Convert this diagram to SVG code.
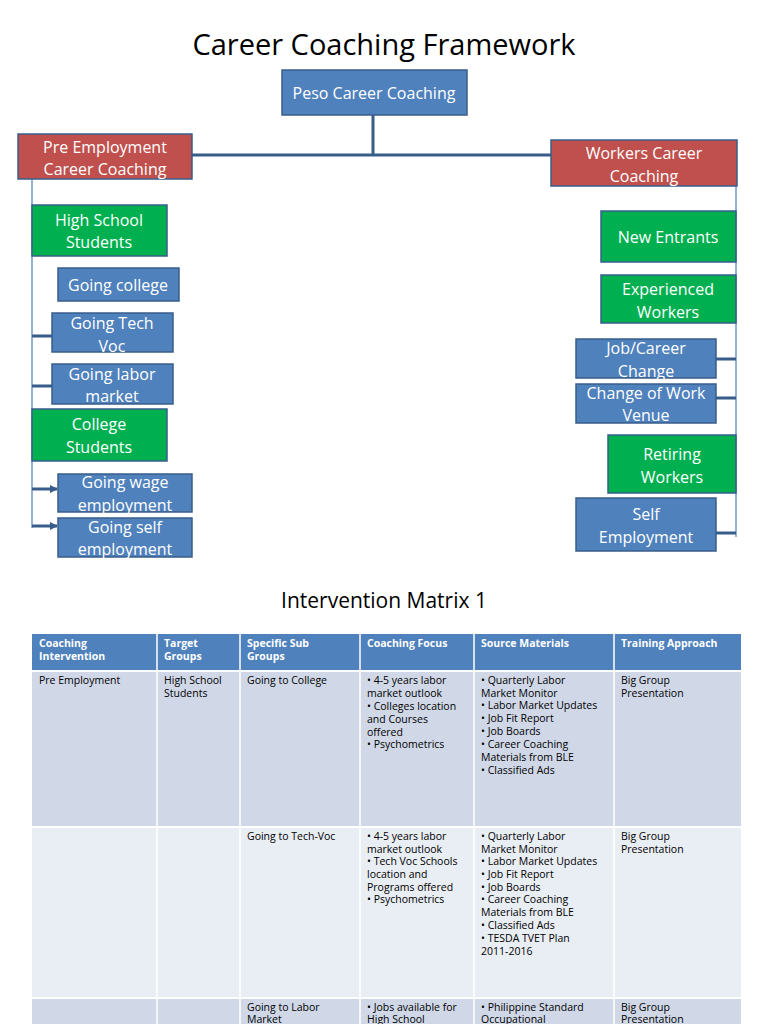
<svg xmlns="http://www.w3.org/2000/svg" width="768" height="1024" viewBox="0 0 768 1024">
<style>
.t{font-family:"Open Sans","Liberation Sans",sans-serif}
.n text{font-family:"Open Sans","Liberation Sans",sans-serif;font-size:16px;fill:#fff;text-anchor:middle}
.b{fill:#4f81bd;stroke:#385d8a;stroke-width:1.5}
.r{fill:#c0504d;stroke:#385d8a;stroke-width:1.5}
.g{fill:#00b050;stroke:#385d8a;stroke-width:1.5}
.thin{stroke:#4f81bd;stroke-width:1.2;fill:none}
.thk{stroke:#385d8a;stroke-width:3;fill:none}
.tb text{font-family:"Open Sans","Liberation Sans",sans-serif;font-size:10.5px;fill:#000}
.tb text.h{fill:#fff;font-weight:bold}
</style>
<defs><marker id="a" markerUnits="userSpaceOnUse" markerWidth="8" markerHeight="8" refX="7" refY="4" orient="auto"><path d="M0,0L8,4L0,8z" fill="#385d8a"/></marker></defs>
<rect width="768" height="1024" fill="#fff"/>
<text class="t" x="384" y="55" font-size="29" text-anchor="middle">Career Coaching Framework</text>
<g id="connectors">
<path class="thk" d="M373,115V155M192,155H551"/>
<path class="thin" d="M32,179V528M736,186V537"/>
<path class="thk" d="M32,336H52M32,386H52M736,359H716M736,398H716M736,533H716"/>
<path class="thk" d="M32,489H57" marker-end="url(#a)"/>
<path class="thk" d="M32,526H57" marker-end="url(#a)"/>
</g>
<g class="n">
<g id="peso"><rect class="b" x="282" y="70" width="185" height="45"/><text x="374" y="99">Peso Career Coaching</text></g>
<g id="pre"><rect class="r" x="18" y="134" width="174" height="45"/><text x="105" y="153">Pre Employment</text><text x="105" y="175">Career Coaching</text></g>
<g id="workers"><rect class="r" x="551" y="140" width="186" height="46"/><text x="644" y="159">Workers Career</text><text x="644" y="182">Coaching</text></g>
<g id="hs"><rect class="g" x="32" y="205" width="135" height="51"/><text x="99" y="226">High School</text><text x="99" y="248">Students</text></g>
<g id="gcol"><rect class="b" x="58" y="268" width="121" height="33"/><text x="118" y="291">Going college</text></g>
<g id="gtv"><rect class="b" x="52" y="313" width="121" height="39"/><text x="112" y="329">Going Tech</text><text x="112" y="352">Voc</text></g>
<g id="glab"><rect class="b" x="52" y="364" width="121" height="40"/><text x="112" y="380">Going labor</text><text x="112" y="402">market</text></g>
<g id="cs"><rect class="g" x="32" y="409" width="135" height="52"/><text x="99" y="430">College</text><text x="99" y="453">Students</text></g>
<g id="gwage"><rect class="b" x="58" y="474" width="134" height="38"/><text x="125" y="488">Going wage</text><text x="125" y="511">employment</text></g>
<g id="gself"><rect class="b" x="58" y="518" width="134" height="39"/><text x="125" y="533">Going self</text><text x="125" y="555">employment</text></g>
<g id="ne"><rect class="g" x="601" y="211" width="135" height="51"/><text x="668" y="243">New Entrants</text></g>
<g id="ew"><rect class="g" x="601" y="275" width="135" height="48"/><text x="668" y="295">Experienced</text><text x="668" y="318">Workers</text></g>
<g id="jc"><rect class="b" x="576" y="339" width="140" height="39"/><text x="646" y="354">Job/Career</text><text x="646" y="377">Change</text></g>
<g id="cw"><rect class="b" x="576" y="384" width="140" height="39"/><text x="646" y="399">Change of Work</text><text x="646" y="421">Venue</text></g>
<g id="rw"><rect class="g" x="608" y="435" width="128" height="58"/><text x="672" y="460">Retiring</text><text x="672" y="483">Workers</text></g>
<g id="se"><rect class="b" x="576" y="498" width="140" height="53"/><text x="646" y="520">Self</text><text x="646" y="543">Employment</text></g>
</g>
<text class="t" x="384" y="608" font-size="21" text-anchor="middle">Intervention Matrix 1</text>
<g class="tb">
<rect x="32" y="634" width="709" height="36" fill="#4f81bd"/>
<rect x="32" y="672" width="709" height="154" fill="#d0d8e8"/>
<rect x="32" y="828" width="709" height="169" fill="#e9edf4"/>
<rect x="32" y="999" width="709" height="25" fill="#d0d8e8"/>
<path d="M157,634V1024M240,634V1024M360,634V1024M474,634V1024M614,634V1024M32,671H741M32,827H741M32,998H741" stroke="#fff" stroke-width="1.5"/>
<text class="h" x="39" y="647">Coaching</text><text class="h" x="39" y="660">Intervention</text>
<text class="h" x="164" y="647">Target</text><text class="h" x="164" y="660">Groups</text>
<text class="h" x="247" y="647">Specific Sub</text><text class="h" x="247" y="660">Groups</text>
<text class="h" x="367" y="647">Coaching Focus</text>
<text class="h" x="481" y="647">Source Materials</text>
<text class="h" x="621" y="647">Training Approach</text>
<text x="39" y="684">Pre Employment</text>
<text x="164" y="684">High School</text><text x="164" y="697">Students</text>
<text x="247" y="684">Going to College</text>
<text x="367" y="684">• 4-5 years labor</text><text x="367" y="697">market outlook</text><text x="367" y="710">•  Colleges location</text><text x="367" y="723">and Courses</text><text x="367" y="736">offered</text><text x="367" y="748">• Psychometrics</text>
<text x="481" y="684">• Quarterly Labor</text><text x="481" y="697">Market Monitor</text><text x="481" y="709">• Labor Market Updates</text><text x="481" y="722">• Job Fit Report</text><text x="481" y="735">• Job Boards</text><text x="481" y="748">• Career Coaching</text><text x="481" y="761">Materials from BLE</text><text x="481" y="774">• Classified Ads</text>
<text x="621" y="684">Big Group</text><text x="621" y="697">Presentation</text>
<text x="247" y="840">Going to Tech-Voc</text>
<text x="367" y="840">• 4-5 years labor</text><text x="367" y="853">market outlook</text><text x="367" y="865">• Tech Voc Schools</text><text x="367" y="878">location and</text><text x="367" y="891">Programs  offered</text><text x="367" y="903">• Psychometrics</text>
<text x="481" y="840">• Quarterly Labor</text><text x="481" y="853">Market Monitor</text><text x="481" y="865">• Labor Market Updates</text><text x="481" y="878">• Job Fit Report</text><text x="481" y="891">• Job Boards</text><text x="481" y="903">• Career Coaching</text><text x="481" y="916">Materials from BLE</text><text x="481" y="929">• Classified Ads</text><text x="481" y="942">• TESDA TVET Plan</text><text x="481" y="955">2011-2016</text>
<text x="621" y="840">Big Group</text><text x="621" y="853">Presentation</text>
<text x="247" y="1011">Going to Labor</text><text x="247" y="1023">Market</text>
<text x="367" y="1011">• Jobs available for</text><text x="367" y="1023">High School</text>
<text x="481" y="1011">• Philippine Standard</text><text x="481" y="1023">Occupational</text>
<text x="621" y="1011">Big Group</text><text x="621" y="1023">Presentation</text>
</g>
</svg>
